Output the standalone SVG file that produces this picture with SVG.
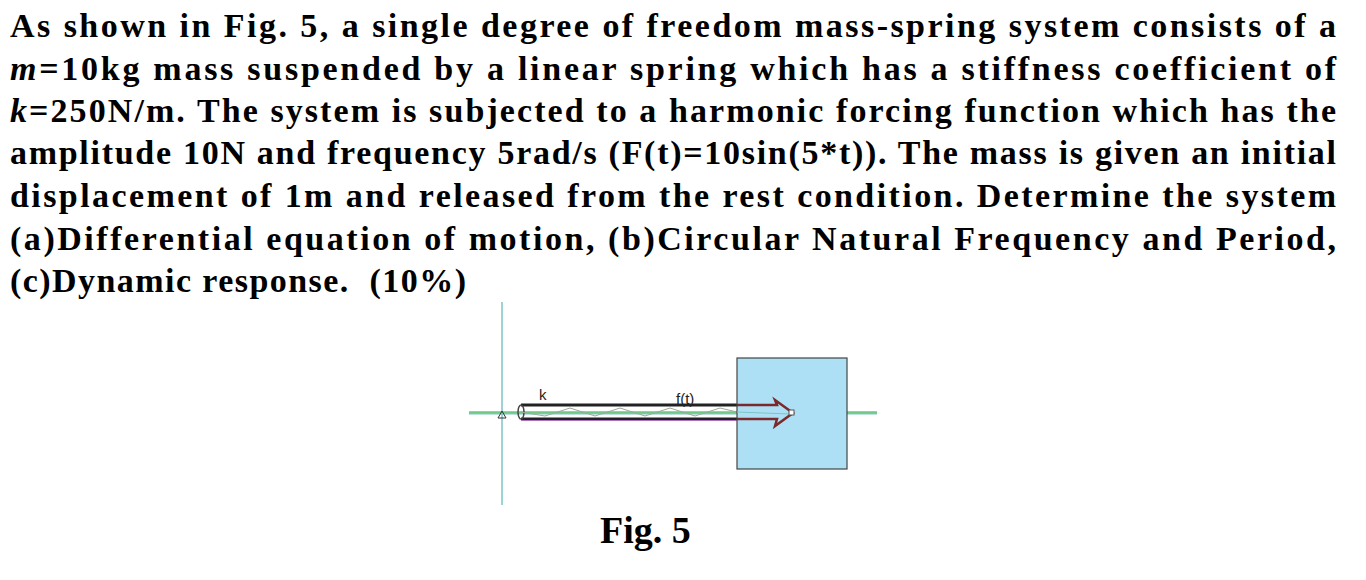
<svg xmlns="http://www.w3.org/2000/svg" width="1366" height="580" viewBox="0 0 1366 580">
<style>
.t{font-family:"Liberation Serif","Times New Roman",serif;font-weight:bold;font-size:34px;fill:#000}
.l{font-family:"Liberation Sans",Arial,sans-serif;font-size:15px;fill:#222}
</style>
<rect width="1366" height="580" fill="#fff"/>
<g id="text">
<text class="t" x="10" y="37" textLength="1326" lengthAdjust="spacing">As shown in Fig. 5, a single degree of freedom mass-spring system consists of a</text>
<text class="t" x="10" y="80" textLength="1326" lengthAdjust="spacing"><tspan font-style="italic">m</tspan>=10kg mass suspended by a linear spring which has a stiffness coefficient of</text>
<text class="t" x="10" y="122" textLength="1326" lengthAdjust="spacing"><tspan font-style="italic">k</tspan>=250N/m. The system is subjected to a harmonic forcing function which has the</text>
<text class="t" x="10" y="164" textLength="1326" lengthAdjust="spacing">amplitude 10N and frequency 5rad/s (F(t)=10sin(5*t)). The mass is given an initial</text>
<text class="t" x="10" y="207" textLength="1326" lengthAdjust="spacing">displacement of 1m and released from the rest condition. Determine the system</text>
<text class="t" x="10" y="250" textLength="1326" lengthAdjust="spacing">(a)Differential equation of motion, (b)Circular Natural Frequency and Period,</text>
<text class="t" x="10" y="292" xml:space="preserve" textLength="456" lengthAdjust="spacing">(c)Dynamic response.  (10%)</text>
<text class="t" x="600" y="543" style="font-size:38px">Fig. 5</text>
</g>
<g id="connectors">
<line x1="502" y1="302" x2="502" y2="505" stroke="#7cc4c4" stroke-width="1.5"/>
<line x1="469" y1="413" x2="737" y2="413" stroke="#7cc4c4" stroke-width="3"/>
<line x1="847" y1="413" x2="877" y2="413" stroke="#7cc4c4" stroke-width="3"/>
<line x1="469" y1="412" x2="737" y2="412" stroke="#66cc44" stroke-width="1"/>
<line x1="847" y1="412" x2="877" y2="412" stroke="#66cc44" stroke-width="1"/>
<path d="M498 418 L502 411 L506 418 Z" fill="none" stroke="#333" stroke-width="1"/>
</g>
<g id="spring">
<line x1="521" y1="405" x2="737" y2="405" stroke="#222" stroke-width="3"/>
<line x1="521" y1="419" x2="737" y2="419" stroke="#222" stroke-width="3"/>
<line x1="521" y1="420.5" x2="737" y2="420.5" stroke="#b070c0" stroke-width="1"/>
<ellipse cx="521" cy="412" rx="3" ry="7" fill="none" stroke="#444" stroke-width="1.5"/>
<polyline points="521,412 545,416 570,408 595,416 620,408 645,416 670,408 695,416 720,408 737,412" fill="none" stroke="#9a9" stroke-width="1"/>
<text class="l" x="539" y="400">k</text>
</g>
<g id="mass">
<rect x="737" y="358" width="110" height="111" fill="#aee0f5" stroke="#444" stroke-width="1.2"/>
</g>
<g id="force">
<path d="M737 405 L777 405 L775 400 L793 413 L775 426 L777 419 L737 419" fill="none" stroke="#7a2a2a" stroke-width="2.5"/>
<line x1="737" y1="412" x2="790" y2="414" stroke="#7cc4c4" stroke-width="1"/>
<rect x="789" y="410" width="5" height="5" fill="#fff" stroke="#555" stroke-width="1"/>
<text class="l" x="676" y="404">f(t)</text>
</g>
</svg>
